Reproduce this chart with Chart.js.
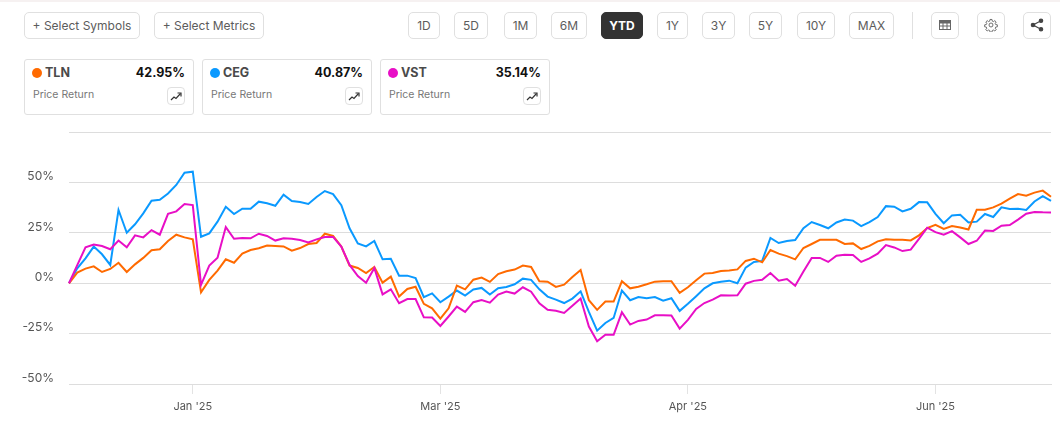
<!DOCTYPE html>
<html>
<head>
<meta charset="utf-8">
<title>Price Return</title>
<script src="https://cdn.jsdelivr.net/npm/chart.js@4"></script>
<style>
  html, body { margin: 0; padding: 0; background: #fff; }
  body { width: 1060px; height: 429px; position: relative; overflow: hidden; font-family: Inter, "Noto Sans", sans-serif; color: #555; }
  .strip { position: absolute; left: 0; top: 0; width: 100%; height: 2px; background: #f6f1f1; }
  .btn { position: absolute; top: 12px; height: 27px; box-sizing: border-box; border: 1px solid #e0e0e0; border-radius: 5px; font-size: 12px; line-height: 25px; text-align: center; color: #5c5c5c; background: #fff; white-space: nowrap; }
  .btn.on { background: #333; border-color: #333; color: #fff; font-weight: 700; }
  .divider { position: absolute; left: 912px; top: 12px; width: 1px; height: 27px; background: #e0e0e0; }
  .btn svg { display: block; position: absolute; left: 6px; top: 5px; }
  .card { position: absolute; top: 59px; width: 170px; height: 56px; box-sizing: border-box; border: 1px solid #e0e0e0; border-radius: 3px; background: #fff; }
  .dot { position: absolute; left: 7px; top: 8px; width: 10px; height: 10px; border-radius: 50%; }
  .sym { position: absolute; left: 20px; top: 5px; font-size: 12.5px; line-height: 16px; font-weight: 700; color: #4a4a4a; }
  .val { position: absolute; right: 8px; top: 5px; font-size: 12.5px; line-height: 16px; font-weight: 700; color: #111; }
  .lab { position: absolute; left: 8px; top: 28px; font-size: 10.5px; line-height: 14px; color: #777; }
  .mini { position: absolute; right: 8px; top: 27px; width: 18px; height: 18px; box-sizing: border-box; border: 1px solid #e0e0e0; border-radius: 4px; }
  .mini svg { display: block; position: absolute; left: 2px; top: 3px; }
  #wrap { position: absolute; left: 0; top: 110px; width: 1060px; height: 319px; }
</style>
</head>
<body>
<div class="strip"></div>
<div class="btn" style="left:24px;width:116px">+ Select Symbols</div>
<div class="btn" style="left:154px;width:110px">+ Select Metrics</div>
<div class="btn" style="left:408px;width:32px">1D</div>
<div class="btn" style="left:454px;width:34px">5D</div>
<div class="btn" style="left:504px;width:33px">1M</div>
<div class="btn" style="left:551px;width:36px">6M</div>
<div class="btn on" style="left:601px;width:42px">YTD</div>
<div class="btn" style="left:657px;width:31px">1Y</div>
<div class="btn" style="left:702px;width:33px">3Y</div>
<div class="btn" style="left:749px;width:33px">5Y</div>
<div class="btn" style="left:797px;width:38px">10Y</div>
<div class="btn" style="left:849px;width:45px">MAX</div>
<div class="divider"></div>
<div class="btn" style="left:931px;width:28px">
  <svg width="14" height="14" viewBox="0 0 14 14" fill="none" stroke="#666" stroke-width="1"><rect x="1.5" y="2.5" width="11" height="9"/><rect x="1.5" y="2.5" width="11" height="2.5" fill="#666"/><path d="M1.5 8h11M5 5v6.5M9 5v6.5"/></svg>
</div>
<div class="btn" style="left:977px;width:28px">
  <svg width="14" height="14" viewBox="0 0 24 24" fill="none" stroke="#666" stroke-width="1.6"><circle cx="12" cy="12" r="3.4"/><path d="M10.3 2.5h3.4l.5 2.9 1.9.8 2.4-1.7 2.4 2.4-1.7 2.4.8 1.9 2.9.5v3.4l-2.9.5-.8 1.9 1.7 2.4-2.4 2.4-2.4-1.7-1.9.8-.5 2.9h-3.4l-.5-2.9-1.9-.8-2.4 1.7-2.4-2.4 1.7-2.4-.8-1.9-2.9-.5v-3.4l2.9-.5.8-1.9-1.7-2.4 2.4-2.4 2.4 1.7 1.9-.8z"/></svg>
</div>
<div class="btn" style="left:1023px;width:28px">
  <svg width="14" height="14" viewBox="0 0 14 14" fill="#444" stroke="#444" stroke-width="1.2"><path d="M11 2.8 3 7l8 4.2" fill="none"/><circle cx="11" cy="2.8" r="1.7"/><circle cx="3" cy="7" r="1.7"/><circle cx="11" cy="11.2" r="1.7"/></svg>
</div>

<div id="cards"></div>
<div id="wrap"><canvas id="returnChart"></canvas></div>

<script>
const tickIndexes = [15, 45, 75, 105];
const tickLabels = ["Jan '25", "Mar '25", "Apr '25", "Jun '25"];
const yTicks = ["50%", "25%", "0%", "-25%", "-50%"];

const symbols = ["TLN", "CEG", "VST"];
const returns = ["42.95%", "40.87%", "35.14%"];
const colors = ["#ff6a00", "#0a99ff", "#e80fc6"];
const cardLefts = [24, 202, 380];

const tln = [
  0, 5.3, 7.3, 8.4, 5.6, 7.1, 10.2, 5.6, 9.4, 12.6, 16.4, 16.9, 21, 24.1, 22.8, 21.8, -4.5, 1.7, 6.3, 11.9,
  10.2, 14.7, 16.5, 17.4, 18.7, 18.5, 18.3, 16.2, 17.5, 19.5, 20, 24.6, 23.5, 18.2, 8.8, 7.6, 5.1, 8.1, 0.3, 3.3,
  -6.6, -2.8, -1.7, -10.2, -12.4, -17.5, -12.4, -1.2, -3, 1.8, 2.8, 0.7, 4.6, 6, 6.8, 8.8, 8.1, 1, 0.8, -1.8,
  -0.7, 3.1, 6.6, -8.4, -13.2, -9.1, -9.1, 1, -2.5, -1.7, -0.5, 0.8, 1, 1, -4.8, -2, 1.5, 4.8, 5.1, 6.1,
  6.3, 6.9, 11.1, 12.2, 10.4, 16.5, 14.7, 13.5, 11.9, 17.5, 19.5, 21.6, 21.6, 21.6, 19.5, 19.8, 17, 18.6, 20.8, 21.9,
  21.6, 21.6, 21.3, 23.8, 27.4, 29, 27, 28.4, 27.7, 26.7, 36.5, 36.5, 37.7, 39.5, 42, 44.3, 43.5, 45, 46, 42.95
];
const ceg = [
  0, 7.4, 12.4, 18.2, 14.4, 9.1, 36.4, 25.1, 29.3, 34.7, 41, 41.5, 44.6, 48.8, 54.9, 55.4, 23.1, 24.8, 30.6, 38,
  34.4, 37, 37, 40.5, 39.7, 38.5, 44, 40.8, 40.3, 39.4, 42.8, 45.8, 44.3, 38.8, 27.3, 19.8, 18.3, 21, 11.9, 12.2,
  3.8, 3.8, 2.6, -6.9, -5, -9.4, -6.6, -3.6, -6.1, -3.1, -2.3, -5.6, -2.5, -1.8, -0.5, 2.3, 1.7, -3, -6.6, -8.1,
  -9.8, -7.6, -4, -14.2, -23.5, -19.7, -17.2, -3.6, -8.4, -6.8, -7.4, -6.8, -8.6, -7.4, -13.7, -10.2, -6.4, -2.5, 0, 0.8,
  1.3, 0, 7.8, 10.6, 11.1, 22.5, 20, 21, 21.5, 27.4, 30.4, 28.9, 27.3, 30.2, 31.6, 31.1, 28.4, 30.4, 32.9, 38.3,
  38, 35.7, 37, 40.3, 40.2, 34.5, 29.8, 33.7, 34, 30.2, 30.6, 34.4, 32.9, 37.7, 36.9, 37, 36.4, 40.6, 43.3, 40.87
];
const vst = [
  0, 9, 17.9, 19.2, 18.5, 16.9, 21.2, 17.9, 23.8, 22.8, 26.4, 24.1, 34.5, 35.7, 39.3, 38.8, -0.8, 8.8, 12.7, 27.9,
  22.1, 22.5, 22.3, 24.6, 23.5, 21.2, 22.3, 22.1, 21.5, 20.3, 21.8, 23, 23, 18.2, 9.1, 3.6, 0.3, 7.6, -5.5, -3,
  -9.9, -7.8, -7.8, -16.9, -17, -21.2, -16.5, -11.6, -14.2, -9.4, -8.3, -9.6, -5.6, -4.1, -5.1, -2, -4.2, -9.9, -13.2, -13.6,
  -14.7, -11.2, -7.6, -21.5, -28.8, -25.5, -25.6, -14.4, -20.5, -18.7, -18, -15.9, -15.9, -16, -22.5, -18.2, -12.7, -9.8, -8.1, -6,
  -6.1, -6, -0.2, 1.2, 1.7, 5.1, 1.3, 2.1, -1.2, 5.8, 12.6, 12.6, 10.6, 13.7, 14.2, 14, 10.6, 12.4, 14.7, 19,
  17.8, 16, 16.7, 22, 27.6, 25.4, 24.1, 25.9, 22.8, 19.5, 21.1, 26.2, 26, 28.6, 28.9, 31.6, 34.5, 35.4, 35.2, 35.14
];
const seriesValues = [tln, ceg, vst];
const drawOrder = [2, 3, 1];

/* ================= SUMMARY CARDS ================= */

const trendIcon = '<svg width="12" height="11" viewBox="0 0 12 11" fill="none" stroke="#333" stroke-width="1.2"><path d="M1 9l3-3 2 1.5L10.5 2.5"/><path d="M7.5 2h3.5v3.5"/></svg>';

document.getElementById("cards").innerHTML = symbols.map((s, i) => `
  <div class="card" style="left:${cardLefts[i]}px">
    <span class="dot" style="background:${colors[i]}"></span>
    <span class="sym">${s}</span>
    <span class="val">${returns[i]}</span>
    <span class="lab">Price Return</span>
    <span class="mini">${trendIcon}</span>
  </div>`).join("");

/* ================= RETURN CHART ================= */

const categories = tln.map((_, i) => {
  const t = tickIndexes.indexOf(i);
  return t >= 0 ? tickLabels[t] : "";
});

new Chart(document.getElementById("returnChart"), {
  type: "line",
  data: {
    labels: categories,
    datasets: symbols.map((s, i) => ({
      label: s,
      data: seriesValues[i],
      borderColor: colors[i],
      borderWidth: 2,
      pointRadius: 0,
      tension: 0,
      order: drawOrder[i]
    }))
  },
  options: {
    responsive: true,
    maintainAspectRatio: false,
    animation: false,
    layout: { padding: { top: 2, right: 9, left: 0, bottom: 0 } },
    plugins: { legend: { display: false }, tooltip: { enabled: false } },
    scales: {
      x: {
        offset: false,
        afterFit: s => { s.height = 45; },
        afterBuildTicks: s => { s.ticks = tickIndexes.map(v => ({ value: v })); },
        grid: { drawOnChartArea: false, drawTicks: true, tickLength: 10, color: "#e3e3e3" },
        border: { color: "#dddddd", width: 1 },
        ticks: {
          autoSkip: false,
          maxRotation: 0,
          padding: 6,
          color: "#555",
          font: { family: "Inter", size: 11 },
          callback: function (v) { return this.getLabelForValue(v); }
        }
      },
      y: {
        min: -50,
        max: 75,
        afterFit: s => { s.width = 69; },
        grid: { drawTicks: false, color: "#dddddd", lineWidth: 1 },
        border: { display: false },
        ticks: {
          stepSize: 25,
          padding: 15,
          labelOffset: -6,
          color: "#555",
          font: { family: "Inter", size: 12 },
          callback: v => (v === 75 ? "" : yTicks[(50 - v) / 25])
        }
      }
    }
  }
});
</script>
</body>
</html>
